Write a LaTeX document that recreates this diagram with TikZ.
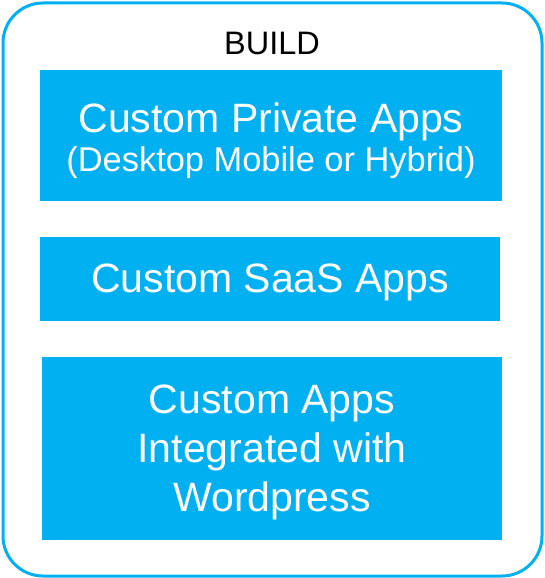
\documentclass[tikz,border=0pt]{standalone}
\usepackage{fontspec}
\setmainfont{Liberation Sans}
\definecolor{skyblue}{HTML}{00B0F0}

\begin{document}
\begin{tikzpicture}[x=1pt,y=-1pt,
   every node/.style={inner sep=0pt,outer sep=0pt},
   appbox/.style={fill=skyblue},
   apptext/.style={text=white,align=center,
      font=\fontsize{41}{49}\selectfont}]
\useasboundingbox (0,0) rectangle (545,578);
\draw[skyblue,line width=3pt,rounded corners=40pt] (3,3) rectangle (542,576);
\node (title) at (272,43) {\fontsize{32.5}{36}\selectfont BUILD};
% boxes
\node[appbox,minimum width=462pt,minimum height=131pt] (private) at (271,135.5) {};
\node[appbox,minimum width=460pt,minimum height=84pt] (saas) at (270,279) {};
\node[appbox,minimum width=460pt,minimum height=183pt] (wordpress) at (272,448.5) {};
% texts
\node[apptext,yshift=-5pt] (private text) at (private.center)
   {Custom Private Apps\\[-10pt]{\fontsize{34.4}{40}\selectfont (Desktop Mobile or Hybrid)}};
\node[apptext,yshift=-3pt] (saas text) at (saas.center) {Custom SaaS Apps};
\node[apptext,yshift=-4pt] (wordpress text) at (wordpress.center)
   {Custom Apps\\Integrated with\\Wordpress};
\end{tikzpicture}
\end{document}
